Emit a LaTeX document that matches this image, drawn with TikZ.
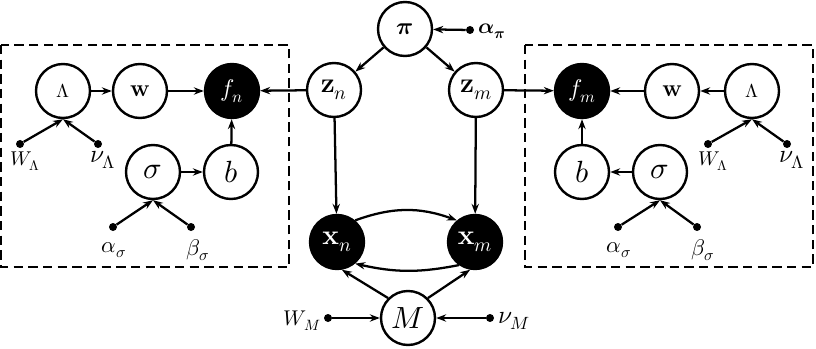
\documentclass[tikz,border=0pt]{standalone}
\usepackage{unicode-math}
\setmathfont{Latin Modern Math}
\usetikzlibrary{arrows.meta}

\tikzset{
  latent/.style={circle,draw,line width=1.8pt,minimum size=40.5pt,inner sep=0pt,font=\fontsize{18}{18}\selectfont},
  obs/.style={latent,fill=black,text=white},
  hyp/.style={circle,fill=black,inner sep=0pt,minimum size=6pt},
  lbl/.style={inner sep=0.75pt,font=\fontsize{17}{17}\selectfont},
  edge/.style={-{Stealth[length=7.5pt,width=5.5pt,inset=2.5pt]},line width=1.7pt},
  plate/.style={draw,line width=1.8pt,dash pattern=on 7pt off 4pt},
  big/.style={font=\fontsize{23}{23}\selectfont},
  mid/.style={font=\fontsize{21}{21}\selectfont},
  small/.style={font=\fontsize{14}{14}\selectfont},
  nulbl/.style={lbl,font=\fontsize{19}{19}\selectfont},
  wlbl/.style={lbl,font=\fontsize{15}{15}\selectfont},
}

\begin{document}
\begin{tikzpicture}[x=0.75pt,y=0.75pt,yscale=-1,xscale=1]
\useasboundingbox (0,0) rectangle (816,349);

% left plate
\draw[plate] (1,45) rectangle (289,267);
\node[latent,small] (lamn) at (63,91) {$\Lambda$};
\node[latent] (wn) at (140,91) {$\mathbf{w}$};
\node[obs] (fn) at (232,91) {$f_n$};
\node[latent,big] (sign) at (153,172) {$\sigma$};
\node[latent,big] (bn) at (231,172) {$b$};
\node[hyp] (wlamn) at (20,144) {};
\node[hyp] (nulamn) at (98,144) {};
\node[hyp] (asn) at (113,227) {};
\node[hyp] (bsn) at (191,227) {};
\node[wlbl] (wlamnl) at (25,161) {$W_\Lambda$};
\node[nulbl] (nulamnl) at (103,160) {$\nu_\Lambda$};
\node[lbl] (asnl) at (114,250) {$\alpha_\sigma$};
\node[lbl] (bsnl) at (198,250) {$\beta_\sigma$};

% right plate
\draw[plate] (525,45) rectangle (813,267);
\node[obs] (fm) at (582,91) {$f_m$};
\node[latent] (wm) at (672,91) {$\mathbf{w}$};
\node[latent,small] (lamm) at (752,91) {$\Lambda$};
\node[latent,big] (bm) at (582,172) {$b$};
\node[latent,big] (sigm) at (660,172) {$\sigma$};
\node[hyp] (wlamm) at (708,144) {};
\node[hyp] (nulamm) at (787,144) {};
\node[hyp] (asm) at (618,227) {};
\node[hyp] (bsm) at (697,227) {};
\node[wlbl] (wlamml) at (713,161) {$W_\Lambda$};
\node[nulbl] (nulamml) at (792,160) {$\nu_\Lambda$};
\node[lbl] (asml) at (619,250) {$\alpha_\sigma$};
\node[lbl] (bsml) at (703,250) {$\beta_\sigma$};

% middle
\node[latent] (pi) at (405,29) {$\symbfit{\pi}$};
\node[hyp] (api) at (470,30) {};
\node[lbl,anchor=west,font=\fontsize{16}{16}\selectfont] (apil) at (477,31) {$\symbfit{\alpha}_{\symbfit{\pi}}$};
\node[latent,mid] (zn) at (334,90) {$\mathbf{z}_n$};
\node[latent,mid] (zm) at (476,90) {$\mathbf{z}_m$};
\node[obs,mid] (xn) at (337,242) {$\mathbf{x}_n$};
\node[obs,mid] (xm) at (475,242) {$\mathbf{x}_m$};
\node[latent,big] (M) at (408,318) {$M$};
\node[hyp] (wM) at (328,318) {};
\node[hyp] (nuM) at (490,318) {};
\node[lbl,anchor=east,font=\fontsize{16}{16}\selectfont] (wMl) at (322,321) {$W_M$};
\node[nulbl,anchor=west] (nuMl) at (497,321) {$\nu_M$};

% edges
\draw[edge] (lamn) -- (wn);
\draw[edge] (wn) -- (fn);
\draw[edge] (sign) -- (bn);
\draw[edge] (bn) -- (fn);
\draw[edge] (wlamn) -- (lamn.south);
\draw[edge] (nulamn) -- (lamn.south);
\draw[edge] (asn) -- (sign.south);
\draw[edge] (bsn) -- (sign.south);
\draw[edge] (lamm) -- (wm);
\draw[edge] (wm) -- (fm);
\draw[edge] (sigm) -- (bm);
\draw[edge] (bm) -- (fm);
\draw[edge] (wlamm) -- (lamm.south);
\draw[edge] (nulamm) -- (lamm.south);
\draw[edge] (asm) -- (sigm.south);
\draw[edge] (bsm) -- (sigm.south);
\draw[edge] (api) -- (pi);
\draw[edge] (pi) -- (zn);
\draw[edge] (pi) -- (zm);
\draw[edge] (zn) -- (fn);
\draw[edge] (zm) -- (fm);
\draw[edge] (zn) -- (xn);
\draw[edge] (zm) -- (xm);
\draw[edge] (xn.50) to[bend right=20] (xm.130);
\draw[edge] (xm.-125) to[bend right=12] (xn.-50);
\draw[edge] (M.135) -- (xn.-80);
\draw[edge] (M.45) -- (xm.-100);
\draw[edge] (wM) -- (M);
\draw[edge] (nuM) -- (M);
\end{tikzpicture}
\end{document}
